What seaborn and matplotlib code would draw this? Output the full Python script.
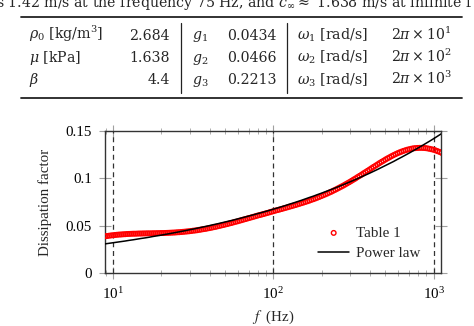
import numpy as np
import matplotlib
matplotlib.use('Agg')
import matplotlib.pyplot as plt
import seaborn as sns
from matplotlib.ticker import FixedLocator, FixedFormatter, LogLocator, NullFormatter

sns.set_theme(style='ticks')
plt.rcParams['font.family'] = ['Liberation Serif', 'DejaVu Serif']
plt.rcParams['mathtext.fontset'] = 'stix'

# ---- data ----
# "Table 1" dissipation factor (red circles)
freq = [8.91, 9.17, 9.44, 9.72, 10, 10.29, 10.59, 10.9, 11.22, 11.55,
        11.89, 12.23, 12.59, 12.96, 13.34, 13.72, 14.13, 14.54, 14.96, 15.4,
        15.85, 16.31, 16.79, 17.28, 17.78, 18.3, 18.84, 19.39, 19.95, 20.54,
        21.13, 21.75, 22.39, 23.04, 23.71, 24.41, 25.12, 25.85, 26.61, 27.38,
        28.18, 29.01, 29.85, 30.73, 31.62, 32.55, 33.5, 34.48, 35.48, 36.52,
        37.58, 38.68, 39.81, 40.97, 42.17, 43.4, 44.67, 45.97, 47.32, 48.7,
        50.12, 51.58, 53.09, 54.64, 56.23, 57.88, 59.57, 61.31, 63.1, 64.94,
        66.83, 68.79, 70.79, 72.86, 74.99, 77.18, 79.43, 81.75, 84.14, 86.6,
        89.13, 91.73, 94.41, 97.16, 100, 102.92, 105.93, 109.02, 112.2, 115.48,
        118.85, 122.32, 125.89, 129.57, 133.35, 137.24, 141.25, 145.38, 149.62, 153.99,
        158.49, 163.12, 167.88, 172.78, 177.83, 183.02, 188.36, 193.86, 199.53, 205.36,
        211.35, 217.52, 223.87, 230.41, 237.14, 244.06, 251.19, 258.53, 266.07, 273.84,
        281.84, 290.07, 298.54, 307.26, 316.23, 325.46, 334.97, 344.75, 354.81, 365.17,
        375.84, 386.81, 398.11, 409.74, 421.7, 434.01, 446.68, 459.72, 473.15, 486.97,
        501.19, 515.82, 530.88, 546.38, 562.34, 578.76, 595.66, 613.05, 630.96, 649.38,
        668.34, 687.86, 707.95, 728.62, 749.89, 771.79, 794.33, 817.52, 841.4, 865.97,
        891.25, 917.28, 944.06, 971.63, 1000, 1029.2, 1059.25, 1090.18, 1122.02]
diss = [0.0390, 0.0393, 0.0396, 0.0399, 0.0401, 0.0404, 0.0406, 0.0408, 0.0409, 0.0411,
        0.0412, 0.0414, 0.0415, 0.0416, 0.0417, 0.0417, 0.0418, 0.0419, 0.0419, 0.0420,
        0.0420, 0.0421, 0.0421, 0.0421, 0.0422, 0.0422, 0.0423, 0.0423, 0.0424, 0.0424,
        0.0425, 0.0426, 0.0427, 0.0428, 0.0429, 0.0430, 0.0432, 0.0433, 0.0435, 0.0437,
        0.0439, 0.0441, 0.0443, 0.0446, 0.0449, 0.0451, 0.0454, 0.0458, 0.0461, 0.0465,
        0.0468, 0.0472, 0.0476, 0.0480, 0.0485, 0.0489, 0.0494, 0.0499, 0.0504, 0.0509,
        0.0514, 0.0519, 0.0525, 0.0530, 0.0536, 0.0542, 0.0547, 0.0553, 0.0559, 0.0565,
        0.0571, 0.0577, 0.0583, 0.0589, 0.0595, 0.0601, 0.0607, 0.0613, 0.0618, 0.0624,
        0.0630, 0.0636, 0.0642, 0.0648, 0.0654, 0.0660, 0.0666, 0.0671, 0.0677, 0.0683,
        0.0689, 0.0695, 0.0701, 0.0707, 0.0713, 0.0719, 0.0726, 0.0732, 0.0739, 0.0745,
        0.0752, 0.0759, 0.0766, 0.0774, 0.0781, 0.0789, 0.0797, 0.0805, 0.0814, 0.0823,
        0.0832, 0.0841, 0.0851, 0.0860, 0.0871, 0.0881, 0.0892, 0.0903, 0.0914, 0.0925,
        0.0937, 0.0949, 0.0961, 0.0974, 0.0987, 0.0999, 0.1013, 0.1026, 0.1039, 0.1053,
        0.1066, 0.1080, 0.1093, 0.1107, 0.1121, 0.1134, 0.1147, 0.1161, 0.1174, 0.1186,
        0.1199, 0.1211, 0.1222, 0.1234, 0.1245, 0.1255, 0.1265, 0.1274, 0.1282, 0.1290,
        0.1297, 0.1303, 0.1308, 0.1313, 0.1317, 0.1319, 0.1321, 0.1322, 0.1322, 0.1321,
        0.1319, 0.1316, 0.1312, 0.1307, 0.1302, 0.1295, 0.1287, 0.1279, 0.1269]

# "Power law" fit (black line)
pl_freq = [8.91, 9.44, 10, 10.59, 11.22, 11.89, 12.59, 13.34, 14.13, 14.96, 15.85, 16.79,
           17.78, 18.84, 19.95, 21.13, 22.39, 23.71, 25.12, 26.61, 28.18, 29.85, 31.62,
           33.5, 35.48, 37.58, 39.81, 42.17, 44.67, 47.32, 50.12, 53.09, 56.23, 59.57,
           63.1, 66.83, 70.79, 74.99, 79.43, 84.14, 89.13, 94.41, 100, 105.93, 112.2,
           118.85, 125.89, 133.35, 141.25, 149.62, 158.49, 167.88, 177.83, 188.36, 199.53,
           211.35, 223.87, 237.14, 251.19, 266.07, 281.84, 298.54, 316.23, 334.97, 354.81,
           375.84, 398.11, 421.7, 446.68, 473.15, 501.19, 530.88, 562.34, 595.66, 630.96,
           668.34, 707.95, 749.89, 794.33, 841.4, 891.25, 944.06, 1000, 1059.25, 1122.02]
power = [0.031, 0.0316, 0.0322, 0.0328, 0.0334, 0.034, 0.0347, 0.0353, 0.036, 0.0367,
         0.0373, 0.038, 0.0388, 0.0395, 0.0402, 0.041, 0.0417, 0.0425, 0.0433, 0.0441,
         0.0449, 0.0458, 0.0466, 0.0475, 0.0484, 0.0493, 0.0502, 0.0512, 0.0521, 0.0531,
         0.0541, 0.0551, 0.0561, 0.0572, 0.0583, 0.0594, 0.0605, 0.0616, 0.0628, 0.0639,
         0.0651, 0.0663, 0.0676, 0.0688, 0.0701, 0.0714, 0.0728, 0.0741, 0.0755, 0.0769,
         0.0784, 0.0799, 0.0813, 0.0829, 0.0844, 0.086, 0.0876, 0.0892, 0.0909, 0.0926,
         0.0943, 0.0961, 0.0979, 0.0997, 0.1016, 0.1035, 0.1054, 0.1074, 0.1094, 0.1115,
         0.1136, 0.1157, 0.1178, 0.1201, 0.1223, 0.1246, 0.1269, 0.1293, 0.1317, 0.1342,
         0.1367, 0.1392, 0.1418, 0.1445, 0.1472]

decade_lines = [10, 100, 1000]
y_ticks = [0, 0.05, 0.1, 0.15]
y_tick_labels = ['0', '0.05', '0.1', '0.15']

# table shown above the chart
c1 = ['$\\rho_0$ [kg/m$^3$]', '$\\mu$ [kPa]', '$\\beta$']
v1 = ['2.684', '1.638', '4.4']
c2 = ['$g_1$', '$g_2$', '$g_3$']
v2 = ['0.0434', '0.0466', '0.2213']
c3 = ['$\\omega_1$ [rad/s]', '$\\omega_2$ [rad/s]', '$\\omega_3$ [rad/s]']
v3 = ['$2\\pi \\times 10^1$', '$2\\pi \\times 10^2$', '$2\\pi \\times 10^3$']
top_line = 's 1.42 m/s at the frequency 75 Hz, and $c_\\infty \\approx$ 1.638 m/s at infinite f'

# ---- drawing ----
FS = 10.8
fig = plt.figure(figsize=(4.74, 3.26), dpi=100)
ax = fig.add_axes([0.2215, 0.1617, 0.7085, 0.4366])
sns.scatterplot(x=freq, y=diss, ax=ax, marker='o', s=11, color='red',
                facecolor='none', edgecolor='red', linewidth=1.0, label='Table 1', zorder=3)
sns.lineplot(x=pl_freq, y=power, ax=ax, color='black', lw=1.1, label='Power law', zorder=4)
for v in decade_lines:
    ax.axvline(v, color='#333333', lw=0.9, ls=(0, (4, 3)), zorder=1)
ax.set_xscale('log')
ax.set_xlim(8.9, 1110)
ax.set_ylim(0, 0.15)
ax.yaxis.set_major_locator(FixedLocator(y_ticks))
ax.yaxis.set_major_formatter(FixedFormatter(y_tick_labels))
ax.xaxis.set_minor_locator(LogLocator(base=10, subs=np.arange(2, 10)))
ax.xaxis.set_minor_formatter(NullFormatter())
ax.tick_params(which='both', direction='inout', top=True, right=True, color='#a0a0a0',
               labelsize=FS, labelcolor='black')
ax.tick_params(which='major', length=8, width=0.8, pad=5.5)
ax.tick_params(which='minor', length=5, width=0.6)
for s in ax.spines.values():
    s.set_color('#333333')
    s.set_linewidth(1.0)
ax.set_ylabel('Dissipation factor', fontsize=FS, labelpad=10)
ax.set_xlabel('$f$  (Hz)', fontsize=FS, labelpad=4.5)
leg = ax.legend(loc='lower right', bbox_to_anchor=(0.962, 0.04), frameon=False, fontsize=FS,
                handlelength=2.1, handletextpad=0.45, labelspacing=0.45, borderpad=0)

tf = dict(family=['DejaVu Serif'], fontsize=10.2, math_fontfamily='dejavuserif')
W, H = 474, 326


def T(x, y, s, **kw):
    fig.text(x / W, 1 - y / H, s, va='baseline', **{**tf, **kw})


T(-4, 7, top_line)
rows_y = [39.5, 62, 84.5]
for i, y in enumerate(rows_y):
    T(29.3, y, c1[i])
    T(170, y, v1[i], ha='right')
    T(191.7, y, c2[i])
    T(276.7, y, v2[i], ha='right')
    T(297.3, y, c3[i])
    T(390.7, y, v3[i])
for y in [17.3, 97.7]:
    fig.add_artist(plt.Line2D([20.7 / W, 461.7 / W], [1 - y / H] * 2, color='#222222', lw=1.3))
for x in [181, 287.3]:
    fig.add_artist(plt.Line2D([x / W] * 2, [1 - 23.3 / H, 1 - 93 / H], color='#222222', lw=0.9))

fig.savefig('out.png', dpi=100)
